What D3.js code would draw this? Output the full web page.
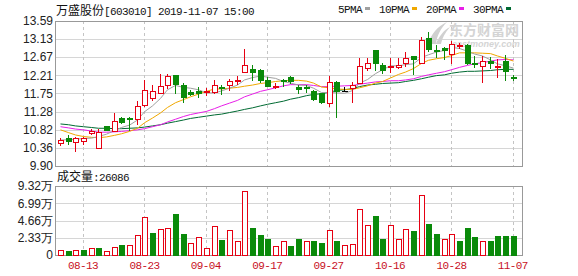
<!DOCTYPE html>
<html>
<head>
<meta charset="utf-8">
<script src="https://cdn.jsdelivr.net/npm/d3@7"></script>
<style>
  body { margin: 0; background: #fff; }
  svg { display: block; }
</style>
</head>
<body>
<div id="chart"></div>
<script>
// trading days shown on the chart
const dates = [
  '08-08','08-09','08-12','08-13','08-14','08-15','08-16','08-19','08-20','08-21',
  '08-22','08-23','08-26','08-27','08-28','08-29','08-30','09-02','09-03','09-04',
  '09-05','09-06','09-09','09-10','09-11','09-12','09-16','09-17','09-18','09-19',
  '09-20','09-23','09-24','09-25','09-26','09-27','09-30','10-08','10-09','10-10',
  '10-11','10-14','10-15','10-16','10-17','10-18','10-21','10-22','10-23','10-24',
  '10-25','10-28','10-29','10-30','10-31','11-01','11-04','11-05','11-06','11-07'
];
const open = [
  10.48,10.61,10.50,10.53,10.74,10.35,10.91,10.79,11.12,11.11,
  11.09,11.45,11.62,11.77,11.96,12.22,11.96,11.79,11.80,11.78,
  11.78,11.92,11.95,12.07,12.30,12.36,12.34,12.09,11.91,12.10,
  12.17,11.92,11.92,11.81,11.75,11.50,12.03,11.81,11.89,12.02,
  12.40,12.84,12.47,12.43,12.43,12.51,12.69,12.51,13.15,12.84,
  12.90,12.75,12.95,12.98,12.51,12.45,12.57,12.42,12.57,12.17
];
const high = [
  10.62,10.68,10.63,10.64,10.84,10.83,10.92,11.25,11.14,11.15,
  11.55,12.10,11.95,12.24,12.25,12.22,12.01,11.84,11.90,11.89,
  12.09,11.96,12.11,12.19,12.88,12.47,12.36,12.16,12.01,12.12,
  12.20,11.96,11.97,11.83,11.77,12.18,12.06,11.90,12.05,12.66,
  12.66,12.86,12.51,12.65,12.64,12.81,12.70,13.19,13.30,12.98,
  12.93,13.08,13.04,13.00,12.71,12.69,12.68,12.62,12.72,12.22
];
const low = [
  10.42,10.44,10.25,10.43,10.68,10.34,10.79,10.77,10.98,10.79,
  10.95,11.40,11.56,11.72,11.85,11.72,11.50,11.68,11.62,11.67,
  11.74,11.70,11.81,11.96,12.28,12.07,12.00,11.90,11.85,11.92,
  11.98,11.72,11.77,11.55,11.47,11.40,11.11,11.78,11.51,12.00,
  12.32,12.33,12.23,12.27,12.38,12.41,12.22,12.49,12.81,12.64,
  12.59,12.49,12.89,12.46,12.40,12.00,12.36,12.15,12.06,12.06
];
const close = [
  10.55,10.51,10.61,10.60,10.78,10.77,10.80,11.04,11.00,11.07,
  11.43,11.84,11.82,11.93,12.19,11.96,11.62,11.71,11.72,11.80,
  11.96,11.88,12.06,12.09,12.47,12.26,12.07,11.92,11.94,12.07,
  12.05,11.84,11.86,11.58,11.50,12.05,11.79,11.81,11.95,12.45,
  12.52,12.50,12.32,12.45,12.47,12.66,12.60,13.10,12.84,12.81,
  12.83,13.00,12.97,12.50,12.46,12.58,12.49,12.45,12.28,12.15
];
const volume = [
  6750,5400,6750,7200,9450,9450,5400,10800,13500,13500,
  27000,50900,30100,34700,36000,55400,28400,15800,23900,9900,
  39200,20300,33800,18900,86400,36000,27000,21200,12200,18900,
  12200,21200,18900,18900,16600,33800,18900,13500,14900,62100,
  40500,52700,21600,40500,21600,35100,32400,81000,41900,28400,
  21600,28400,18900,36000,24800,18900,18900,25700,25700,26086
];
const ma5 = [
  10.56,10.57,10.58,10.60,10.61,10.65,10.71,10.80,10.88,10.94,
  11.07,11.28,11.43,11.62,11.84,11.95,11.90,11.88,11.84,11.76,
  11.76,11.81,11.88,11.96,12.09,12.15,12.19,12.16,12.13,12.05,
  12.01,11.96,11.95,11.88,11.77,11.77,11.76,11.75,11.82,12.01,
  12.10,12.25,12.35,12.45,12.45,12.48,12.50,12.66,12.73,12.80,
  12.84,12.92,12.89,12.82,12.75,12.70,12.60,12.50,12.45,12.39
];
const ma10 = [
  10.82,10.75,10.69,10.65,10.63,10.62,10.64,10.68,10.72,10.78,
  10.86,11.00,11.12,11.25,11.39,11.51,11.59,11.66,11.73,11.80,
  11.86,11.86,11.88,11.90,11.93,11.96,12.00,12.02,12.05,12.07,
  12.08,12.08,12.06,12.01,11.91,11.89,11.86,11.85,11.85,11.89,
  11.94,12.01,12.05,12.14,12.23,12.29,12.38,12.51,12.59,12.63,
  12.66,12.71,12.78,12.78,12.78,12.77,12.76,12.70,12.64,12.57
];
const ma20 = [
  10.90,10.87,10.84,10.82,10.79,10.76,10.76,10.77,10.78,10.80,
  10.82,10.85,10.90,10.95,11.02,11.09,11.16,11.21,11.25,11.29,
  11.36,11.43,11.50,11.57,11.66,11.73,11.80,11.84,11.89,11.94,
  11.97,11.97,11.97,11.95,11.92,11.92,11.93,11.94,11.95,11.98,
  12.01,12.04,12.05,12.07,12.07,12.09,12.12,12.18,12.22,12.26,
  12.30,12.35,12.41,12.46,12.50,12.53,12.57,12.60,12.61,12.60
];
const ma30 = [
  10.97,10.95,10.92,10.90,10.88,10.86,10.86,10.85,10.85,10.86,
  10.87,10.89,10.92,10.95,10.99,11.03,11.07,11.11,11.14,11.17,
  11.20,11.22,11.26,11.30,11.34,11.38,11.43,11.47,11.51,11.55,
  11.60,11.64,11.69,11.72,11.74,11.78,11.82,11.84,11.87,11.92,
  11.96,11.98,12.00,12.01,12.02,12.05,12.08,12.12,12.16,12.20,
  12.22,12.26,12.29,12.31,12.31,12.32,12.33,12.35,12.36,12.36
];
const priceTicks = [13.59, 13.13, 12.67, 12.21, 11.75, 11.28, 10.82, 10.36, 9.90];
const volTicks = [0, 23300, 46600, 69900, 93200];
const volTickLabels = ['0', '2.33万', '4.66万', '6.99万', '9.32万'];
const dateTicks = ['08-13','08-23','09-04','09-17','09-27','10-16','10-28','11-07'];
const maNames = ['5PMA', '10PMA', '20PMA', '30PMA'];
const maColors = ['#a0a0a0', '#f0a800', '#e81ee8', '#006a32'];

const W = 578, H = 276;
const left = 55, right = 522;
const pTop = 21, pBot = 166, vTop = 186, vBot = 255;
const RED = '#e60012', GREEN = '#0a8a0a';
const MONO = '"Liberation Mono", monospace';
const CJK = '"Noto Sans CJK SC", sans-serif';
const SANS = '"Liberation Sans", Arial, sans-serif';

const svg = d3.select('#chart').append('svg')
  .attr('width', W).attr('height', H);

const x = d3.scaleBand().domain(dates)
  .range([56.2, 516.6])
  .paddingInner(0.3).paddingOuter(0.15);
const yP = d3.scaleLinear().domain([9.90, 13.59]).range([pBot, pTop]);
const yV = d3.scaleLinear().domain([0, 93200]).range([vBot, vTop]);
const cx = i => Math.round(x(dates[i]) + x.bandwidth() / 2);

// grid
const grid = svg.append('g').attr('shape-rendering', 'crispEdges');
grid.selectAll('line.hp').data(priceTicks).join('line')
  .attr('x1', left).attr('x2', right)
  .attr('y1', d => Math.round(yP(d)) + 0.5).attr('y2', d => Math.round(yP(d)) + 0.5)
  .attr('stroke', '#d6d6d6');
grid.selectAll('line.hv').data(volTicks).join('line')
  .attr('x1', left).attr('x2', right)
  .attr('y1', d => Math.round(yV(d)) + 0.5).attr('y2', d => Math.round(yV(d)) + 0.5)
  .attr('stroke', '#d6d6d6');
dateTicks.forEach(d => {
  const xx = cx(dates.indexOf(d)) + 0.5;
  [[pTop, pBot], [vTop, vBot]].forEach(([a, b]) => {
    grid.append('line')
      .attr('x1', xx).attr('x2', xx).attr('y1', a).attr('y2', b)
      .attr('stroke', '#c4c4c4').attr('stroke-dasharray', '3,3');
  });
});

// watermark
const wm = svg.append('g').attr('fill', '#d4d4d4');
wm.append('path')
  .attr('d', 'M428,44 C431,34 438,26 447,22 C441,28 437,35 436,44 Z M436,44 C439,36 444,30 450,27 C445,33 442,38 441,44 Z')
  .attr('fill', '#d0d0d0');
wm.append('text').attr('x', 449).attr('y', 35)
  .attr('font-family', CJK).attr('font-size', 14).attr('font-weight', 'bold')
  .text('东方财富网');
wm.append('text').attr('x', 452).attr('y', 47)
  .attr('font-family', SANS).attr('font-size', 9).attr('font-weight', 'bold')
  .attr('font-style', 'italic').text('eastmoney.com');

// frames
svg.append('rect').attr('x', left + 0.5).attr('y', pTop + 0.5)
  .attr('width', right - left).attr('height', pBot - pTop)
  .attr('fill', 'none').attr('stroke', '#999').attr('shape-rendering', 'crispEdges');
svg.append('rect').attr('x', left + 0.5).attr('y', vTop + 0.5)
  .attr('width', right - left).attr('height', vBot - vTop)
  .attr('fill', 'none').attr('stroke', '#999').attr('shape-rendering', 'crispEdges');

// moving averages
const mas = [ma5, ma10, ma20, ma30];
const line = d3.line().x((d, i) => cx(i) + 0.5).y(d => yP(d));
mas.slice().reverse().forEach((arr, k) => {
  svg.append('path').datum(arr)
    .attr('d', line)
    .attr('fill', 'none')
    .attr('stroke', maColors[3 - k])
    .attr('stroke-width', 1);
});

// candles
const idx = d3.range(dates.length);
const candles = svg.append('g').attr('shape-rendering', 'crispEdges');
idx.forEach(i => {
  const o = open[i], c = close[i];
  const xm = cx(i) + 0.5;
  const g = candles.append('g');
  if (c > o) {
    const yt = Math.round(yP(c)), yb = Math.round(yP(o));
    g.append('line').attr('x1', xm).attr('x2', xm)
      .attr('y1', yP(high[i])).attr('y2', yt).attr('stroke', RED);
    g.append('line').attr('x1', xm).attr('x2', xm)
      .attr('y1', yb).attr('y2', yP(low[i])).attr('stroke', RED);
    g.append('rect').attr('x', xm - 2.5).attr('y', yt + 0.5)
      .attr('width', 5).attr('height', Math.max(1, yb - yt))
      .attr('fill', '#fff').attr('stroke', RED);
  } else if (c < o) {
    const yt = Math.round(yP(o)), yb = Math.round(yP(c));
    g.append('line').attr('x1', xm).attr('x2', xm)
      .attr('y1', yP(high[i])).attr('y2', yP(low[i])).attr('stroke', GREEN);
    g.append('rect').attr('x', xm - 3).attr('y', yt)
      .attr('width', 6).attr('height', Math.max(2, yb - yt))
      .attr('fill', GREEN);
  } else {
    const ym = Math.round(yP(c)) + 0.5;
    g.append('line').attr('x1', xm).attr('x2', xm)
      .attr('y1', yP(high[i])).attr('y2', yP(low[i])).attr('stroke', '#000');
    g.append('line').attr('x1', xm - 3).attr('x2', xm + 3)
      .attr('y1', ym).attr('y2', ym).attr('stroke', '#000');
  }
});

// volume bars, coloured by change against the previous close
const vol = svg.append('g').attr('shape-rendering', 'crispEdges');
idx.forEach(i => {
  const up = i === 0 ? close[i] >= open[i] : close[i] >= close[i - 1];
  const xm = cx(i) + 0.5;
  const yt = Math.round(yV(volume[i]));
  if (up) {
    vol.append('rect').attr('x', xm - 2.5).attr('y', yt + 0.5)
      .attr('width', 5).attr('height', vBot - yt)
      .attr('fill', '#fff').attr('stroke', RED);
  } else {
    vol.append('rect').attr('x', xm - 3).attr('y', yt)
      .attr('width', 6).attr('height', vBot - yt + 1)
      .attr('fill', GREEN);
  }
});

// price axis labels
const yAxis = d3.axisLeft(yP).tickValues(priceTicks).tickFormat(d3.format('.2f'))
  .tickSize(0).tickPadding(2);
svg.append('g').attr('transform', `translate(${left},0)`).call(yAxis)
  .call(g => g.select('.domain').remove())
  .call(g => g.selectAll('text').attr('font-family', SANS).attr('font-size', 12).attr('fill', '#222'));

// volume axis labels
const vAxis = d3.axisLeft(yV).tickValues(volTicks)
  .tickFormat((d, i) => volTickLabels[i]).tickSize(0).tickPadding(2);
svg.append('g').attr('transform', `translate(${left},0)`).call(vAxis)
  .call(g => g.select('.domain').remove())
  .call(g => g.selectAll('text').attr('font-family', SANS).attr('font-size', 12).attr('fill', '#222'));

// date labels
const xAxis = d3.axisBottom(x).tickValues(dateTicks).tickSize(0).tickPadding(6);
svg.append('g').attr('transform', `translate(0,${vBot})`).call(xAxis)
  .call(g => g.select('.domain').remove())
  .call(g => g.selectAll('text').attr('font-family', MONO).attr('font-size', 11)
    .attr('letter-spacing', '-0.6px').attr('fill', '#c8101e'));

// title
const title = svg.append('text').attr('x', 56).attr('y', 15).attr('fill', '#111');
title.append('tspan').attr('font-family', CJK).attr('font-size', 12).text('万盛股份');
title.append('tspan').attr('font-family', MONO).attr('font-size', 11)
  .attr('letter-spacing', '-0.6px').text('[603010] 2019-11-07 15:00');

// legend
let lx = 338;
maNames.forEach((name, k) => {
  svg.append('text').attr('x', lx).attr('y', 13)
    .attr('font-family', MONO).attr('font-size', 11).attr('letter-spacing', '-0.6px')
    .attr('fill', '#111').text(name);
  const w = name.length * 6;
  svg.append('rect').attr('x', lx + w + 3).attr('y', 7)
    .attr('width', 5).attr('height', 3).attr('fill', maColors[k]);
  lx += w + 3 + 5 + 9;
});

// volume caption
const vc = svg.append('text').attr('x', 57).attr('y', 181).attr('fill', '#111');
vc.append('tspan').attr('font-family', CJK).attr('font-size', 12).text('成交量');
vc.append('tspan').attr('font-family', MONO).attr('font-size', 11)
  .attr('letter-spacing', '-0.6px').text(':' + volume[volume.length - 1]);
</script>
</body>
</html>
